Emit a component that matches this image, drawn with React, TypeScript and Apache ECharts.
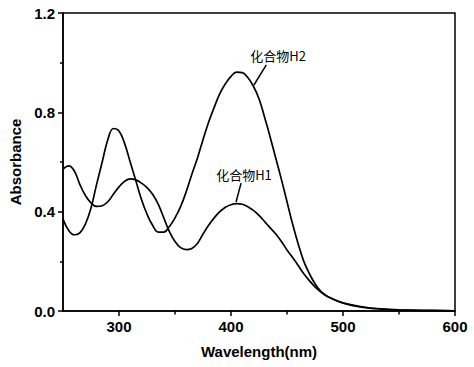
import React, { useEffect, useRef } from "react";
import * as echarts from "echarts";

const h2Wavelengths = [250, 255, 260, 265, 270, 275, 280, 285, 290, 295, 300, 305, 310, 315, 320, 325, 330, 335, 340, 345, 350, 355, 360, 365, 370, 375, 380, 385, 390, 395, 400, 405, 410, 415, 420, 425, 430, 435, 440, 445, 450, 455, 460, 465, 470, 475, 480, 485, 490, 495, 500, 510, 520, 530, 540, 550, 570, 600];
const h2Values = [0.37, 0.325, 0.307, 0.315, 0.35, 0.415, 0.51, 0.6, 0.69, 0.735, 0.725, 0.675, 0.6, 0.525, 0.45, 0.39, 0.345, 0.318, 0.318, 0.34, 0.375, 0.42, 0.48, 0.55, 0.615, 0.69, 0.76, 0.82, 0.875, 0.915, 0.945, 0.962, 0.96, 0.94, 0.905, 0.855, 0.78, 0.7, 0.615, 0.53, 0.44, 0.35, 0.27, 0.2, 0.15, 0.11, 0.08, 0.062, 0.05, 0.04, 0.032, 0.02, 0.013, 0.009, 0.006, 0.004, 0.002, 0.001];

const h1Wavelengths = [250, 255, 260, 265, 270, 275, 280, 285, 290, 295, 300, 305, 310, 315, 320, 325, 330, 335, 340, 345, 350, 355, 360, 365, 370, 375, 380, 385, 390, 395, 400, 405, 410, 415, 420, 425, 430, 435, 440, 445, 450, 455, 460, 465, 470, 475, 480, 485, 490, 495, 500, 510, 520, 530, 540, 550, 570, 600];
const h1Values = [0.57, 0.584, 0.565, 0.51, 0.465, 0.435, 0.421, 0.424, 0.44, 0.47, 0.5, 0.522, 0.532, 0.528, 0.515, 0.497, 0.47, 0.43, 0.375, 0.32, 0.28, 0.255, 0.247, 0.252, 0.272, 0.31, 0.345, 0.375, 0.4, 0.418, 0.428, 0.432, 0.43, 0.42, 0.405, 0.385, 0.36, 0.335, 0.31, 0.28, 0.246, 0.215, 0.183, 0.15, 0.122, 0.097, 0.077, 0.061, 0.05, 0.04, 0.033, 0.023, 0.015, 0.01, 0.007, 0.005, 0.003, 0.001];

const xMajorTicks = [300, 400, 500, 600];
const xMinorTicks = [350, 450, 550];

const seriesNames = ["化合物H1", "化合物H2"];
// annotation anchors in data coordinates: label centre, leader start, leader end
const h2Annotation = { label: [442, 1.027], from: [431.5, 0.991], to: [420.5, 0.91] };
const h1Annotation = { label: [411.6, 0.548], from: [409, 0.515], to: [404.5, 0.439] };

const zip = (xs: number[], ys: number[]) => xs.map((x, i) => [x, ys[i]]);

export default function App() {
  const ref = useRef<HTMLDivElement>(null);
  useEffect(() => {
    if (!ref.current) return;
    const chart = echarts.init(ref.current, undefined, { renderer: "svg" });
    const axisFont = { fontFamily: "Liberation Sans, Arial, sans-serif", fontWeight: "bold" as const, fontSize: 15, color: "#000" };
    chart.setOption({
      animation: false,
      backgroundColor: "#fff",
      grid: { left: 63, right: 19, top: 13, bottom: 56, show: true, borderColor: "#000", borderWidth: 1.5 },
      xAxis: [
        {
          type: "value",
          min: 250,
          max: 600,
          name: "Wavelength(nm)",
          nameLocation: "middle",
          nameGap: 33,
          nameTextStyle: axisFont,
          splitLine: { show: false },
          axisLine: { show: true, lineStyle: { color: "#000", width: 1.5 } },
          axisTick: { show: true, length: 5, customValues: xMajorTicks, lineStyle: { color: "#000", width: 1.5 } },
          axisLabel: { ...axisFont, margin: 8, customValues: xMajorTicks },
        },
        {
          type: "value",
          min: 250,
          max: 600,
          position: "bottom",
          splitLine: { show: false },
          axisLine: { show: false },
          axisTick: { show: true, length: 3.5, customValues: xMinorTicks, lineStyle: { color: "#000", width: 1.5 } },
          axisLabel: { show: false },
        },
      ],
      yAxis: {
        type: "value",
        min: 0,
        max: 1.2,
        interval: 0.4,
        name: "Absorbance",
        nameLocation: "middle",
        nameGap: 38,
        nameTextStyle: axisFont,
        splitLine: { show: false },
        axisLine: { show: true, lineStyle: { color: "#000", width: 1.5 } },
        axisTick: { show: true, length: 5, lineStyle: { color: "#000", width: 1.5 } },
        minorTick: { show: true, splitNumber: 2, length: 3, lineStyle: { color: "#000", width: 1.5 } },
        axisLabel: { ...axisFont, margin: 8, formatter: (v: number) => v.toFixed(1) },
      },
      series: [
        {
          name: seriesNames[0],
          type: "line",
          data: zip(h1Wavelengths, h1Values),
          smooth: 0.4,
          showSymbol: false,
          lineStyle: { color: "#000", width: 1.7 },
        },
        {
          name: seriesNames[1],
          type: "line",
          data: zip(h2Wavelengths, h2Values),
          smooth: 0.4,
          showSymbol: false,
          lineStyle: { color: "#000", width: 1.7 },
        },
      ],
    });
    const px = (p: number[]) => chart.convertToPixel({ xAxisIndex: 0, yAxisIndex: 0 }, p) as number[];
    const annotate = (a: { label: number[]; from: number[]; to: number[] }, text: string) => {
      const c = px(a.label);
      const f = px(a.from);
      const t = px(a.to);
      return [
        {
          type: "text",
          x: c[0],
          y: c[1],
          style: { text, fill: "#000", font: "13px 'Noto Sans CJK SC', sans-serif", align: "center", verticalAlign: "middle" },
        },
        {
          type: "line",
          shape: { x1: f[0], y1: f[1], x2: t[0], y2: t[1] },
          style: { stroke: "#000", lineWidth: 1.5 },
        },
      ];
    };
    chart.setOption({
      graphic: [...annotate(h2Annotation, seriesNames[1]), ...annotate(h1Annotation, seriesNames[0])],
    });
    return () => chart.dispose();
  }, []);
  return <div ref={ref} style={{ width: 474, height: 367, position: "absolute", left: 0, top: 0 }} />;
}
